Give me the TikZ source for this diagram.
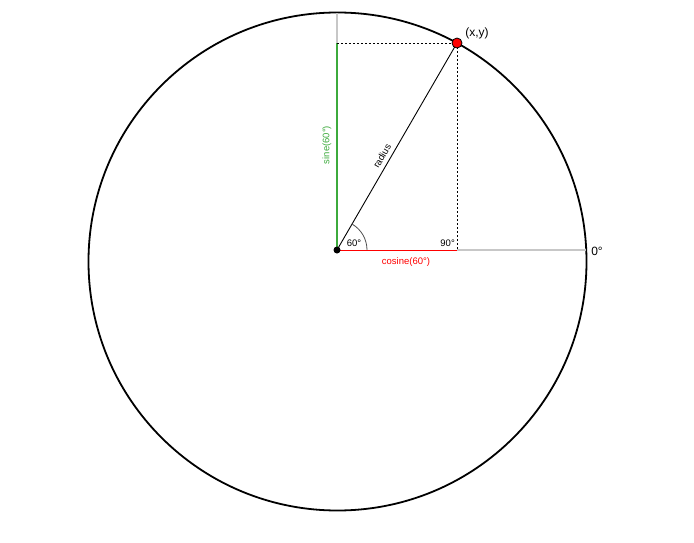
\documentclass[tikz,border=0pt]{standalone}
\usepackage{fontspec}
\setmainfont{Liberation Sans}
\begin{document}
\begin{tikzpicture}[x=1pt,y=-1pt,
  lbl/.style={inner sep=0pt,font=\fontsize{9.5}{11}\selectfont},
  biglbl/.style={inner sep=0pt,font=\fontsize{12}{14}\selectfont},
  dotline/.style={line width=0.8pt,dash pattern=on 2pt off 2pt},
  grayline/.style={line width=1.2pt,color=black!22}]
\useasboundingbox (0,0) rectangle (694,543);
\definecolor{sinegreen}{RGB}{60,170,60}
\coordinate (C) at (337.5,261.5);
\coordinate (O) at (337,250);
\coordinate (P) at (457,43);
\coordinate (Q) at (457,250);
\coordinate (S) at (337,43);
\coordinate (T) at (337,13);
\coordinate (R) at (586,250);
% circle
\draw[line width=1.8pt] (C) circle [radius=249];
% axes
\draw[grayline] (Q) -- (R);
\draw[grayline] (S) -- (T);
\draw[red,line width=1pt] (O) -- (Q);
\draw[sinegreen,line width=1.1pt] (O) -- (S);
% dashed projections
\draw[dotline] (S) -- (P);
\draw[dotline] (P) -- (Q);
% radius
\draw[line width=0.9pt] (O) -- (P);
\node[lbl,rotate=60] (rad) at (382,156) {radius};
% angle arc
\draw[black!70,line width=0.8pt] ([xshift=30pt]O) arc[start angle=0,end angle=-60,radius=30];
% dots
\fill (O) circle [radius=3.5];
\filldraw[fill=red,draw=black,line width=0.8pt] (P) circle [radius=5];
% labels
\node[lbl,anchor=base] (a60) at (354,246.5) {60°};
\node[lbl,anchor=base east] (a90) at (455,246.5) {90°};
\node[lbl,text=red] (cos) at (406,262) {cosine(60°)};
\node[lbl,text=sinegreen,rotate=90] (sin) at (327,145) {sine(60°)};
\node[biglbl] (xy) at (477,33) {(x,y)};
\node[biglbl] (zero) at (597,251) {0°};
\end{tikzpicture}
\end{document}
